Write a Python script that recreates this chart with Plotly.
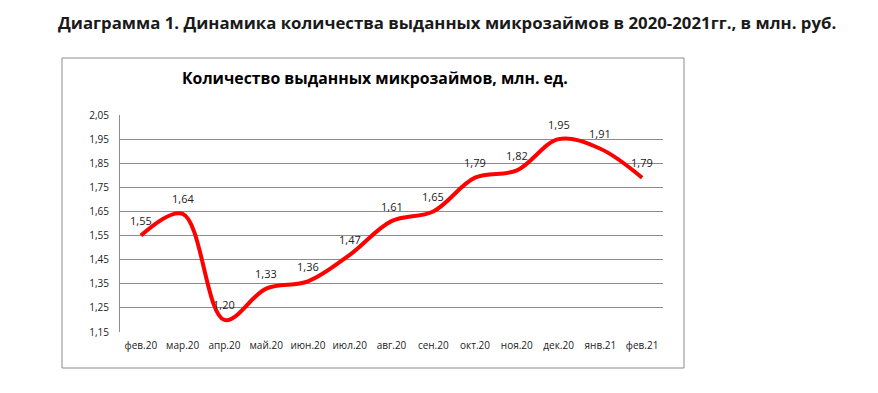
import plotly.graph_objects as go

categories = ["фев.20", "мар.20", "апр.20", "май.20", "июн.20", "июл.20", "авг.20",
              "сен.20", "окт.20", "ноя.20", "дек.20", "янв.21", "фев.21"]
values = [1.55, 1.64, 1.20, 1.33, 1.36, 1.47, 1.61, 1.65, 1.79, 1.82, 1.95, 1.91, 1.79]
y_ticks = [1.15, 1.25, 1.35, 1.45, 1.55, 1.65, 1.75, 1.85, 1.95, 2.05]

W, H = 878, 393
OFF = 8  # page body margin
L, R, T, B = 120 - OFF, 663 - OFF, 115 - OFF, 332 - OFF

def px_x(p):
    return (p - OFF - L) / (R - L)

def px_y(p):
    return (B - (p - OFF)) / (B - T)

fig = go.Figure()
fig.add_trace(go.Scatter(
    x=categories, y=values, mode="lines",
    line=dict(color="#ff0000", width=4, shape="spline", smoothing=1.0),
    hoverinfo="skip", showlegend=False,
))

for c, v in zip(categories, values):
    fig.add_annotation(x=c, y=v, xref="x", yref="y", text=f"{v:.2f}".replace(".", ","),
                       showarrow=False, yshift=15,
                       font=dict(family="Open Sans", size=11, color="#222222"))

fig.add_annotation(xref="paper", yref="paper", x=px_x(447), y=px_y(22),
                   text="<b>Диаграмма 1. Динамика количества выданных микрозаймов в 2020-2021гг., в млн. руб.</b>",
                   showarrow=False, xanchor="center", yanchor="middle",
                   font=dict(family="Open Sans", size=16.8, color="#1a1a1a"))
fig.add_annotation(xref="paper", yref="paper", x=px_x(375), y=px_y(78),
                   text="<b>Количество выданных микрозаймов, млн. ед.</b>",
                   showarrow=False, xanchor="center", yanchor="middle",
                   font=dict(family="Open Sans", size=15.8, color="#000000"))

fig.add_shape(type="rect", xref="paper", yref="paper",
              x0=px_x(62), x1=px_x(684), y0=px_y(368), y1=px_y(58),
              line=dict(color="#8c8c8c", width=1), fillcolor="rgba(0,0,0,0)", layer="below")

fig.update_layout(
    width=W, height=H,
    margin=dict(l=L, r=W - R, t=T, b=H - B, pad=0),
    paper_bgcolor="white", plot_bgcolor="white",
    separators=", ",
    xaxis=dict(type="category", showgrid=False, showline=False, ticks="",
               tickfont=dict(family="Open Sans", size=10, color="#222222"),
               ticklabelstandoff=6,
               range=[-0.5, len(categories) - 0.5], fixedrange=True),
    yaxis=dict(range=[1.15, 2.05], tickvals=y_ticks, tickformat=".2f",
               showgrid=True, gridcolor="#8c8c8c", gridwidth=1,
               showline=True, linecolor="#8c8c8c", linewidth=1,
               zeroline=False, ticks="", ticklabelstandoff=8,
               tickfont=dict(family="Open Sans", size=10, color="#222222")),
)

fig.write_html("out.html")
